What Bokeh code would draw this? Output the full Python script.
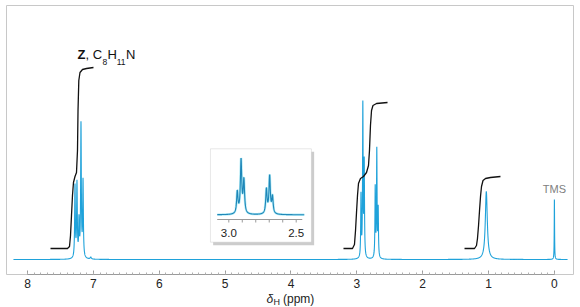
import numpy as np
from bokeh.plotting import figure
from bokeh.layouts import column
from bokeh.models import Range1d, FixedTicker, Label, BoxAnnotation
from bokeh.embed import file_html
from bokeh.resources import INLINE
from bokeh.core.properties import value

# ---------------- data ----------------
tick_values = [8, 7, 6, 5, 4, 3, 2, 1, 0]
tick_labels = ["8", "7", "6", "5", "4", "3", "2", "1", "0"]

# 1H peaks: position (ppm), height (px above baseline), half width (ppm)
arom_ppm = [7.280, 7.250, 7.219, 7.189, 7.158, 7.040]
arom_h = [72, 74, 36, 133, 76, 2]
arom_w = [0.006, 0.006, 0.006, 0.006, 0.006, 0.01]

ch2_ppm = [2.937, 2.909, 2.888, 2.721, 2.697, 2.676]
ch2_h = [62, 152, 94, 70, 107, 48]
ch2_w = [0.005, 0.005, 0.005, 0.005, 0.005, 0.005]

nh2_ppm = [1.034]
nh2_h = [68]
nh2_w = [0.018]

tms_ppm = [0.0]
tms_h = [60]
tms_w = [0.003]

# integration traces (ppm, height)
int1_ppm = [7.652, 7.394, 7.363, 7.348, 7.333, 7.318, 7.303, 7.280, 7.257, 7.242,
            7.234, 7.222, 7.204, 7.166, 7.105, 6.999]
int1_h = [11, 11, 13, 24, 44, 64, 77, 83, 87, 109, 149, 179, 187, 190, 191, 192]

int2_ppm = [3.203, 3.066, 3.036, 3.020, 3.005, 2.990, 2.975, 2.945, 2.899, 2.853,
            2.823, 2.808, 2.793, 2.777, 2.755, 2.701, 2.534]
int2_h = [11, 11, 15, 29, 47, 64, 76, 81, 83, 87, 94, 109, 134, 149, 154, 156, 157]

int3_ppm = [1.365, 1.213, 1.183, 1.168, 1.152, 1.137, 1.122, 1.107, 1.084, 1.046,
            0.971, 0.819]
int3_h = [11, 11, 14, 21, 34, 49, 63, 73, 79, 81, 82, 83]

# inset (expansion of 2.5-3.1 ppm)
inset_ticks = [3.0, 2.9, 2.8, 2.7, 2.6, 2.5]
inset_label_values = [3.0, 2.5]
inset_labels = ["3.0", "2.5"]
inset_scale = 0.35

# ---------------- styles ----------------
BLUE = "#1fa2da"
INSET_BLUE = "#1e86b8"
FONT = "Liberation Sans"


def spectrum(x, ppm, h, w):
    y = np.zeros_like(x)
    for p0, h0, w0 in zip(ppm, h, w):
        y += h0 / (1.0 + ((x - p0) / w0) ** 2)
    return y


xr = Range1d(8.32, -0.29)
p = figure(width=580, height=292, output_backend="svg", toolbar_location=None,
           x_range=xr, y_range=Range1d(-15, 254),
           y_axis_type=None, min_border_left=6, min_border_right=7,
           min_border_top=5, min_border_bottom=18)
p.grid.visible = False
p.outline_line_color = "#c8c8c8"
p.outline_line_width = 1
p.background_fill_color = "white"
p.border_fill_color = "white"

# main axis
ax = p.xaxis[0]
minor = [round(i * 0.1, 1) for i in range(0, 81)]
ax.ticker = FixedTicker(ticks=tick_values, minor_ticks=minor)
ax.major_label_overrides = {v: s for v, s in zip(tick_values, tick_labels)}
ax.bounds = (0, 8)
ax.axis_line_color = "#9a9a9a"
ax.major_tick_line_color = "#9a9a9a"
ax.minor_tick_line_color = "#b0b0b0"
ax.major_tick_in = 4
ax.major_tick_out = 0
ax.minor_tick_in = 2
ax.minor_tick_out = 0
ax.major_label_text_font = FONT
ax.major_label_text_font_size = "12px"
ax.major_label_text_color = "#222222"
ax.major_label_standoff = 4

# spectrum
x = np.arange(-0.2, 8.215, 0.0005)
all_ppm = arom_ppm + ch2_ppm + nh2_ppm + tms_ppm
all_h = arom_h + ch2_h + nh2_h + tms_h
all_w = arom_w + ch2_w + nh2_w + tms_w
y = spectrum(x, all_ppm, all_h, all_w)
p.line(x, y, line_color=BLUE, line_width=1.1)

# integrals
for ip, ih in [(int1_ppm, int1_h), (int2_ppm, int2_h), (int3_ppm, int3_h)]:
    p.line(ip, ih, line_color="#111111", line_width=1.3, line_join="round")

# compound label
ZX = 7.242
ZY = 198
def zlabel(text, dx, dy, size, style="normal"):
    p.add_layout(Label(x=ZX, y=ZY + dy, text=text, text_font=FONT, text_font_style=style,
                       text_font_size=size, text_color="#111111", x_offset=dx))

zlabel("Z", 0, 0, "13px", "bold")
zlabel(", C", 8, 0, "13px")
zlabel("8", 24.9, -3, "8.5px")
zlabel("H", 29.9, 0, "13px")
zlabel("11", 39.2, -3, "8.5px")
zlabel("N", 48.4, 0, "13px")

p.add_layout(Label(x=0.0, y=65, text="TMS", text_font=FONT, text_align="center",
                   text_font_size="11px", text_color="#808080"))

# ---------------- inset ----------------
p.extra_x_ranges = {"inset": Range1d(4.649, 0.443)}
p.extra_y_ranges = {"inset": Range1d(-59.7, 209.3)}

shadow = BoxAnnotation(left=3.136 - 0.02, right=2.387 - 0.02, top=66 - 3, bottom=-27.4 - 3,
                       x_range_name="inset", y_range_name="inset", level="underlay",
                       fill_color="#9a9a9a", fill_alpha=0.5, line_color=None)
box = BoxAnnotation(left=3.136, right=2.387, top=66, bottom=-27.4,
                    x_range_name="inset", y_range_name="inset", level="underlay",
                    fill_color="white", fill_alpha=1.0, line_color="#b4b4b4", line_width=1)
p.add_layout(shadow)
p.add_layout(box)

xi = np.arange(2.44, 3.086, 0.0005)
yi = spectrum(xi, ch2_ppm, [h * inset_scale for h in ch2_h], [0.006] * len(ch2_ppm))
p.line(xi, yi, x_range_name="inset", y_range_name="inset",
       line_color="#8fe3f2", line_width=2.4, line_alpha=0.7)
p.line(xi, yi, x_range_name="inset", y_range_name="inset",
       line_color=INSET_BLUE, line_width=1.1)

p.line([3.086, 2.455], [-4.7, -4.7], x_range_name="inset", y_range_name="inset",
       line_color="#9a9a9a", line_width=1)
p.segment(x0=inset_ticks, y0=[-4.7] * len(inset_ticks), x1=inset_ticks,
          y1=[-7.7] * len(inset_ticks), x_range_name="inset", y_range_name="inset",
          line_color="#9a9a9a", line_width=1)
p.text(x=inset_label_values, y=[-18] * len(inset_labels), text=inset_labels,
       x_range_name="inset", y_range_name="inset", text_font=value(FONT),
       text_font_size="11.5px", text_color="#222222", text_align="center",
       text_baseline="middle")

# ---------------- axis title strip:  δH (ppm) ----------------
t = figure(width=580, height=15, output_backend="svg", toolbar_location=None,
           x_range=xr, y_range=Range1d(0, 15), x_axis_type=None, y_axis_type=None,
           min_border_left=6, min_border_right=7, min_border_top=0, min_border_bottom=0)
t.grid.visible = False
t.outline_line_color = None
t.background_fill_color = "white"
t.border_fill_color = "white"

AX = 4.372
AY = 8.5
def alabel(text, dx, dy, size, style="normal"):
    t.add_layout(Label(x=AX, y=AY + dy, text=text, text_font=FONT, text_font_style=style,
                       text_font_size=size, text_color="#222222", text_baseline="middle",
                       x_offset=dx))

alabel("δ", 0, 0, "12px", "italic")
alabel("H", 6.9, -3, "9px")
alabel("(ppm)", 16.5, 0, "12px")

layout = column(p, t, spacing=0)
open("out.html", "w").write(file_html(layout, INLINE))
